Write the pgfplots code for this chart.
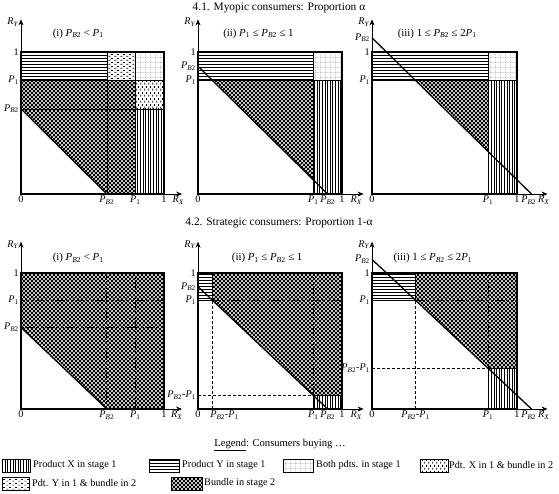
\documentclass[border=0pt]{standalone}
\usepackage{fontspec}
\setmainfont{Liberation Serif}
\usepackage{pgfplots}
\pgfplotsset{compat=1.18}
\usetikzlibrary{patterns,arrows.meta}

% ---------- patterns ----------
\pgfdeclarepatternformonly{vl}{\pgfqpoint{-1pt}{-1pt}}{\pgfqpoint{3pt}{3pt}}{\pgfqpoint{2.6pt}{2.6pt}}{%
  \pgfsetlinewidth{0.75pt}\pgfpathmoveto{\pgfqpoint{0pt}{-0.2pt}}\pgfpathlineto{\pgfqpoint{0pt}{2.8pt}}\pgfusepath{stroke}}
\pgfdeclarepatternformonly{hl}{\pgfqpoint{-1pt}{-1pt}}{\pgfqpoint{3.5pt}{3.5pt}}{\pgfqpoint{3pt}{3pt}}{%
  \pgfsetlinewidth{0.75pt}\pgfpathmoveto{\pgfqpoint{-0.2pt}{0pt}}\pgfpathlineto{\pgfqpoint{3.2pt}{0pt}}\pgfusepath{stroke}}
\pgfdeclarepatternformonly{xh}{\pgfqpoint{-1pt}{-1pt}}{\pgfqpoint{5pt}{5pt}}{\pgfqpoint{4pt}{4pt}}{%
  \pgfsetlinewidth{0.85pt}%
  \pgfpathmoveto{\pgfqpoint{-0.2pt}{-0.2pt}}\pgfpathlineto{\pgfqpoint{4.2pt}{4.2pt}}%
  \pgfpathmoveto{\pgfqpoint{4.2pt}{-0.2pt}}\pgfpathlineto{\pgfqpoint{-0.2pt}{4.2pt}}\pgfusepath{stroke}}
\pgfdeclarepatternformonly{vd}{\pgfqpoint{0pt}{0pt}}{\pgfqpoint{4pt}{6pt}}{\pgfqpoint{4pt}{6pt}}{%
  \pgfsetlinewidth{0.9pt}%
  \pgfpathmoveto{\pgfqpoint{1pt}{0.4pt}}\pgfpathlineto{\pgfqpoint{1pt}{2.6pt}}%
  \pgfpathmoveto{\pgfqpoint{3pt}{3.4pt}}\pgfpathlineto{\pgfqpoint{3pt}{5.6pt}}\pgfusepath{stroke}}
\pgfdeclarepatternformonly{hd}{\pgfqpoint{0pt}{0pt}}{\pgfqpoint{6pt}{4pt}}{\pgfqpoint{6pt}{4pt}}{%
  \pgfsetlinewidth{0.8pt}%
  \pgfpathmoveto{\pgfqpoint{0.4pt}{1pt}}\pgfpathlineto{\pgfqpoint{2.6pt}{1pt}}%
  \pgfpathmoveto{\pgfqpoint{3.4pt}{3pt}}\pgfpathlineto{\pgfqpoint{5.6pt}{3pt}}\pgfusepath{stroke}}
\pgfdeclarepatternformonly{gr}{\pgfqpoint{0pt}{0pt}}{\pgfqpoint{5pt}{5pt}}{\pgfqpoint{5pt}{5pt}}{%
  \pgfsetlinewidth{0.35pt}%
  \pgfpathmoveto{\pgfqpoint{0pt}{0pt}}\pgfpathlineto{\pgfqpoint{0pt}{5pt}}%
  \pgfpathmoveto{\pgfqpoint{0pt}{0pt}}\pgfpathlineto{\pgfqpoint{5pt}{0pt}}\pgfusepath{stroke}}

% ---------- labels ----------
\newcommand{\PB}{\textit{P}\textsubscript{\textit{B}2}}
\newcommand{\Pone}{\textit{P}\textsubscript{1}}
\newcommand{\RX}{\textit{R}\textsubscript{\textit{X}}}
\newcommand{\RY}{\textit{R}\textsubscript{\textit{Y}}}
\newcommand{\PBP}{\PB-\Pone}
\newcommand{\lblfont}{\fontsize{10.2}{11}\selectfont}
\newcommand{\ptfont}{\fontsize{10.8}{12}\selectfont}

\pgfplotsset{
  panel/.style={anchor=south west, xmin=0, ymin=0, axis lines=left,
    axis line style={line width=0.6pt,-{Stealth[length=6pt,width=5pt]}},
    major tick length=0pt, clip=false, scale only axis,
    ticklabel style={font=\lblfont, inner sep=2pt},
    xticklabel style={anchor=north}, yticklabel style={anchor=east}},
  box/.style={line width=1.4pt, black},
  mid/.style={line width=1pt, black},
  thin/.style={line width=0.5pt, black},
  dsh/.style={line width=0.8pt, black, dash pattern=on 3pt off 2pt},
  diag/.style={line width=1.3pt, black},
}

\begin{document}
\begin{tikzpicture}
\path[use as bounding box] (0,0) rectangle (559pt,-493pt);

\node[font=\fontsize{11.4}{13}\selectfont] at (279pt,-8pt) {4.1. Myopic consumers: Proportion α};
\node[font=\fontsize{11.4}{13}\selectfont] at (279pt,-223pt) {4.2. Strategic consumers: Proportion 1-α};

% ===== Top (i) =====
\begin{axis}[panel, at={(21pt,-194pt)}, x=143pt, y=142pt, xmax=1.126, ymax=1.23,
  xtick={0,0.6,0.8,1}, xticklabels={\mbox{0},\mbox{\PB},\mbox{\Pone},\mbox{1}},
  ytick={0.6,0.8,1}, yticklabels={\mbox{\PB},\mbox{\Pone},\mbox{1}}]
\addplot[draw=none, pattern=xh] coordinates {(0,0.6) (0,0.8) (0.8,0.8) (0.8,0) (0.6,0)} -- cycle;
\addplot[draw=none, pattern=hl] coordinates {(0,0.8) (0.6,0.8) (0.6,1) (0,1)} -- cycle;
\addplot[draw=none, pattern=hd] coordinates {(0.6,0.8) (0.8,0.8) (0.8,1) (0.6,1)} -- cycle;
\addplot[draw=none, pattern=gr] coordinates {(0.8,0.8) (1,0.8) (1,1) (0.8,1)} -- cycle;
\addplot[draw=none, pattern=vd] coordinates {(0.8,0.6) (1,0.6) (1,0.8) (0.8,0.8)} -- cycle;
\addplot[draw=none, pattern=vl] coordinates {(0.8,0) (1,0) (1,0.6) (0.8,0.6)} -- cycle;
\addplot[thin] coordinates {(0.6,0) (0.6,1)};
\addplot[thin] coordinates {(0,0.6) (1,0.6)};
\addplot[mid] coordinates {(0.8,0) (0.8,1)};
\addplot[mid] coordinates {(0,0.8) (1,0.8)};
\addplot[diag] coordinates {(0,0.6) (0.6,0)};
\addplot[box] coordinates {(0,0) (1,0) (1,1) (0,1)} -- cycle;
\node[font=\lblfont, anchor=north, inner sep=2pt] at (axis cs:1.10,0) {\RX};
\node[font=\lblfont, anchor=east, inner sep=2pt] at (axis cs:0,1.21) {\RY};
\node[font=\ptfont] at (axis cs:0.40,1.13) {(i) \PB{} < \Pone};
\end{axis}

% ===== Top (ii) =====
\begin{axis}[panel, at={(198pt,-194pt)}, x=144pt, y=142pt, xmax=1.15, ymax=1.23,
  xtick={0,0.8,0.9,1}, xticklabels={\mbox{0},\mbox{\Pone},\mbox{\PB},\mbox{1}},
  ytick={0.8,0.9,1}, yticklabels={\mbox{\Pone},\mbox{\PB},\mbox{1}}]
\addplot[draw=none, pattern=xh] coordinates {(0.1,0.8) (0.8,0.8) (0.8,0.1)} -- cycle;
\addplot[draw=none, pattern=hl] coordinates {(0,0.8) (0.8,0.8) (0.8,1) (0,1)} -- cycle;
\addplot[draw=none, pattern=gr] coordinates {(0.8,0.8) (1,0.8) (1,1) (0.8,1)} -- cycle;
\addplot[draw=none, pattern=vl] coordinates {(0.8,0) (1,0) (1,0.8) (0.8,0.8)} -- cycle;
\addplot[mid] coordinates {(0.8,0) (0.8,1)};
\addplot[mid] coordinates {(0,0.8) (1,0.8)};
\addplot[diag] coordinates {(0,0.9) (0.9,0)};
\addplot[box] coordinates {(0,0) (1,0) (1,1) (0,1)} -- cycle;
\node[font=\lblfont, anchor=north, inner sep=2pt] at (axis cs:1.10,0) {\RX};
\node[font=\lblfont, anchor=east, inner sep=2pt] at (axis cs:0,1.21) {\RY};
\node[font=\ptfont] at (axis cs:0.42,1.13) {(ii) \Pone{} ≤ \PB{} ≤ 1};
\end{axis}

% ===== Top (iii) =====
\begin{axis}[panel, at={(372pt,-194pt)}, x=145pt, y=142pt, xmax=1.21, ymax=1.23,
  xtick={0,0.8,1,1.08}, xticklabels={\mbox{0},\mbox{\Pone},\mbox{1},\mbox{\PB}},
  ytick={0.8,1,1.1}, yticklabels={\mbox{\Pone},\mbox{1},\mbox{\PB}}]
\addplot[draw=none, pattern=xh] coordinates {(0.3,0.8) (0.8,0.8) (0.8,0.3)} -- cycle;
\addplot[draw=none, pattern=hl] coordinates {(0,0.8) (0.8,0.8) (0.8,1) (0,1)} -- cycle;
\addplot[draw=none, pattern=gr] coordinates {(0.8,0.8) (1,0.8) (1,1) (0.8,1)} -- cycle;
\addplot[draw=none, pattern=vl] coordinates {(0.8,0) (1,0) (1,0.8) (0.8,0.8)} -- cycle;
\addplot[mid] coordinates {(0.8,0) (0.8,1)};
\addplot[mid] coordinates {(0,0.8) (1,0.8)};
\addplot[diag] coordinates {(0,1.1) (1.1,0)};
\addplot[box] coordinates {(0,0) (1,0) (1,1) (0,1)} -- cycle;
\node[font=\lblfont, anchor=north west, inner sep=2pt] at (axis cs:1.13,0) {\RX};
\node[font=\lblfont, anchor=east, inner sep=2pt] at (axis cs:0,1.21) {\RY};
\node[font=\ptfont] at (axis cs:0.45,1.13) {(iii) 1 ≤ \PB{} ≤ 2\Pone};
\end{axis}

% ===== Bottom (i) =====
\begin{axis}[panel, at={(21pt,-409pt)}, x=143pt, y=136pt, xmax=1.126, ymax=1.23,
  xtick={0,0.6,0.8,1}, xticklabels={\mbox{0},\mbox{\PB},\mbox{\Pone},\mbox{1}},
  ytick={0.6,0.8,1}, yticklabels={\mbox{\PB},\mbox{\Pone},\mbox{1}}]
\addplot[draw=none, pattern=xh] coordinates {(0,0.6) (0,1) (1,1) (1,0) (0.6,0)} -- cycle;
\addplot[dsh] coordinates {(0.6,0) (0.6,1)};
\addplot[dsh] coordinates {(0.8,0) (0.8,1)};
\addplot[dsh] coordinates {(0,0.6) (1,0.6)};
\addplot[dsh] coordinates {(0,0.8) (1,0.8)};
\addplot[diag] coordinates {(0,0.6) (0.6,0)};
\addplot[box] coordinates {(0,0) (1,0) (1,1) (0,1)} -- cycle;
\node[font=\lblfont, anchor=north, inner sep=2pt] at (axis cs:1.09,0) {\RX};
\node[font=\lblfont, anchor=east, inner sep=2pt] at (axis cs:0,1.21) {\RY};
\node[font=\ptfont] at (axis cs:0.40,1.11) {(i) \PB{} < \Pone};
\end{axis}

% ===== Bottom (ii) =====
\begin{axis}[panel, at={(198pt,-409pt)}, x=144pt, y=136pt, xmax=1.15, ymax=1.23,
  xtick={0,0.8,0.9,1}, xticklabels={\mbox{0},\mbox{\Pone},\mbox{\PB},\mbox{1}},
  extra x ticks={0.07}, extra x tick labels={\mbox{\PBP}},
  extra x tick style={xticklabel style={anchor=north west}},
  ytick={0.1,0.8,0.9,1}, yticklabels={\mbox{\PBP},\mbox{\Pone},\mbox{\PB},\mbox{1}}]
\addplot[draw=none, pattern=xh] coordinates {(0.1,0.8) (0.1,1) (1,1) (1,0.1) (0.8,0.1)} -- cycle;
\addplot[draw=none, pattern=hl] coordinates {(0,0.8) (0.1,0.8) (0.1,1) (0,1)} -- cycle;
\addplot[draw=none, pattern=vl] coordinates {(0.8,0) (1,0) (1,0.1) (0.8,0.1)} -- cycle;
\addplot[dsh] coordinates {(0.1,0) (0.1,0.8)};
\addplot[dsh] coordinates {(0,0.1) (0.8,0.1)};
\addplot[dsh] coordinates {(0.8,0.1) (0.8,1)};
\addplot[dsh] coordinates {(0.1,0.8) (1,0.8)};
\addplot[thin] coordinates {(0.1,0.8) (0.1,1)};
\addplot[thin] coordinates {(0,0.8) (0.1,0.8)};
\addplot[thin] coordinates {(0.8,0) (0.8,0.1)};
\addplot[thin] coordinates {(0.8,0.1) (1,0.1)};
\addplot[diag] coordinates {(0,0.9) (0.9,0)};
\addplot[box] coordinates {(0,0) (1,0) (1,1) (0,1)} -- cycle;
\node[font=\lblfont, anchor=north, inner sep=2pt] at (axis cs:1.10,0) {\RX};
\node[font=\lblfont, anchor=east, inner sep=2pt] at (axis cs:0,1.21) {\RY};
\node[font=\ptfont] at (axis cs:0.48,1.11) {(ii) \Pone{} ≤ \PB{} ≤ 1};
\end{axis}

% ===== Bottom (iii) =====
\begin{axis}[panel, at={(372pt,-409pt)}, x=145pt, y=136pt, xmax=1.21, ymax=1.23,
  xtick={0,0.3,0.8,1,1.08}, xticklabels={\mbox{0},\mbox{\PBP},\mbox{\Pone},\mbox{1},\mbox{\PB}},
  ytick={0.3,0.8,1,1.1}, yticklabels={\mbox{\PBP},\mbox{\Pone},\mbox{1},\mbox{\PB}}]
\addplot[draw=none, pattern=xh] coordinates {(0.3,0.8) (0.3,1) (1,1) (1,0.3) (0.8,0.3)} -- cycle;
\addplot[draw=none, pattern=hl] coordinates {(0,0.8) (0.3,0.8) (0.3,1) (0,1)} -- cycle;
\addplot[draw=none, pattern=vl] coordinates {(0.8,0) (1,0) (1,0.3) (0.8,0.3)} -- cycle;
\addplot[dsh] coordinates {(0.3,0) (0.3,0.8)};
\addplot[dsh] coordinates {(0,0.3) (0.8,0.3)};
\addplot[dsh] coordinates {(0.8,0.3) (0.8,1)};
\addplot[dsh] coordinates {(0.3,0.8) (1,0.8)};
\addplot[thin] coordinates {(0.3,0.8) (0.3,1)};
\addplot[thin] coordinates {(0,0.8) (0.3,0.8)};
\addplot[thin] coordinates {(0.8,0) (0.8,0.3)};
\addplot[thin] coordinates {(0.8,0.3) (1,0.3)};
\addplot[diag] coordinates {(0,1.1) (1.1,0)};
\addplot[box] coordinates {(0,0) (1,0) (1,1) (0,1)} -- cycle;
\node[font=\lblfont, anchor=north west, inner sep=2pt] at (axis cs:1.13,0) {\RX};
\node[font=\lblfont, anchor=east, inner sep=2pt] at (axis cs:0,1.21) {\RY};
\node[font=\ptfont] at (axis cs:0.42,1.11) {(iii) 1 ≤ \PB{} ≤ 2\Pone};
\end{axis}

% ===== Legend =====
\node[font=\fontsize{10.6}{12}\selectfont] at (280pt,-445pt) {\underline{Legend}: Consumers buying …};
\begin{scope}[every node/.style={font=\fontsize{10.2}{11}\selectfont, anchor=west, inner sep=0pt}]
\draw[line width=0.7pt, pattern=vl] (2pt,-459pt) rectangle (30pt,-472pt);
\node at (33pt,-465.5pt) {Product X in stage 1};
\draw[line width=0.7pt, pattern=hl] (149pt,-459pt) rectangle (179pt,-472pt);
\node at (182pt,-465.5pt) {Product Y in stage 1};
\draw[line width=0.7pt, pattern=gr] (283pt,-459pt) rectangle (313pt,-472pt);
\node at (316pt,-465.5pt) {Both pdts. in stage 1};
\draw[line width=0.7pt, pattern=vd] (420pt,-459pt) rectangle (448pt,-472pt);
\node at (449pt,-465.5pt) {Pdt. X in 1 \& bundle in 2};
\draw[line width=0.7pt, pattern=hd] (2pt,-477pt) rectangle (29pt,-490pt);
\node at (32pt,-483.5pt) {Pdt. Y in 1 \& bundle in 2};
\draw[line width=0.7pt, pattern=xh] (171pt,-477pt) rectangle (202pt,-490pt);
\node at (204pt,-483.5pt) {Bundle in stage 2};
\end{scope}
\end{tikzpicture}
\end{document}
